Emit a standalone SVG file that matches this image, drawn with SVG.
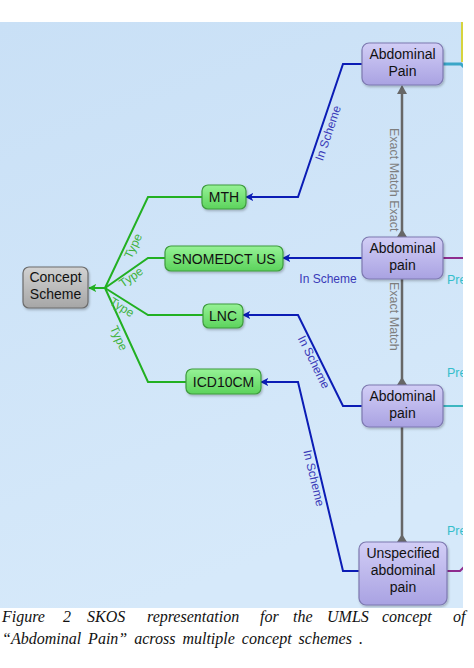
<svg xmlns="http://www.w3.org/2000/svg" width="474" height="668" viewBox="0 0 474 668">
  <defs>
    <linearGradient id="bg" x1="0" y1="0" x2="0.3" y2="1">
      <stop offset="0" stop-color="#C9E0F6"/>
      <stop offset="1" stop-color="#D6E9FA"/>
    </linearGradient>
    <linearGradient id="gPurple" x1="0" y1="0" x2="0" y2="1">
      <stop offset="0" stop-color="#D2CEF6"/>
      <stop offset="1" stop-color="#A9A2E2"/>
    </linearGradient>
    <linearGradient id="gGreen" x1="0" y1="0" x2="0" y2="1">
      <stop offset="0" stop-color="#96F296"/>
      <stop offset="1" stop-color="#5CD35C"/>
    </linearGradient>
    <linearGradient id="gGray" x1="0" y1="0" x2="0" y2="1">
      <stop offset="0" stop-color="#D2D2D2"/>
      <stop offset="1" stop-color="#A6A6A6"/>
    </linearGradient>
    <filter id="sh" x="-20%" y="-20%" width="140%" height="150%">
      <feDropShadow dx="1" dy="1.5" stdDeviation="1" flood-color="#000" flood-opacity="0.25"/>
    </filter>
    <clipPath id="area">
      <rect x="0" y="22" width="463" height="586"/>
    </clipPath>
    <marker id="aBlue" viewBox="0 0 10 10" refX="9" refY="5" markerWidth="8" markerHeight="8" orient="auto" markerUnits="userSpaceOnUse">
      <path d="M0,0 L10,5 L0,10 L2.5,5 z" fill="#0B1CB5"/>
    </marker>
    <marker id="aGreen" viewBox="0 0 10 10" refX="9" refY="5" markerWidth="8" markerHeight="8" orient="auto" markerUnits="userSpaceOnUse">
      <path d="M0,0 L10,5 L0,10 L2.5,5 z" fill="#22B022"/>
    </marker>
    <style>
      .node text { font-family: "Liberation Sans", Arial, sans-serif; font-size: 14px; fill: #111; text-anchor: middle; }
      .purple { fill: url(#gPurple); stroke: #7D79B0; stroke-width: 1.2; }
      .green { fill: url(#gGreen); stroke: #3E9B3E; stroke-width: 1.2; }
      .gray { fill: url(#gGray); stroke: #6C6C6C; stroke-width: 1.2; }
      .blue { fill: none; stroke: #0B1CB5; stroke-width: 2; }
      .grn { fill: none; stroke: #22B022; stroke-width: 2; }
      .gry { fill: none; stroke: #676767; stroke-width: 2.5; }
      .lbl { font-family: "Liberation Sans", Arial, sans-serif; font-size: 12px; }
      .lblBlue { fill: #3A3AB8; }
      .lblGreen { fill: #3DB23D; }
      .lblGray { fill: #7E7E7E; font-size: 12.5px; }
      .lblCyan { fill: #35BECB; font-size: 12.5px; }
      .cap { font-family: "Liberation Serif", "Times New Roman", serif; font-style: italic; font-size: 16px; fill: #111; }
    </style>
  </defs>

  <rect x="0" y="0" width="474" height="668" fill="#FFFFFF"/>

  <g clip-path="url(#area)">
    <rect x="0" y="22" width="463" height="586" fill="url(#bg)"/>

    <g id="connectors">
      <path d="M443,64 L461,64 L464,67" fill="none" stroke="#3AA6C8" stroke-width="3"/>
      <path d="M462,22 L462,62" fill="none" stroke="#D6D43E" stroke-width="2"/>
      <path d="M443,258 L464,258" fill="none" stroke="#8E2C8E" stroke-width="2"/>
      <path d="M443,406 L464,406" fill="none" stroke="#3CB6C0" stroke-width="2"/>
      <path d="M447,571 L460,571 L464,567" fill="none" stroke="#8E2C8E" stroke-width="2"/>
      <text class="lbl lblCyan" x="447" y="284">Pre</text>
      <text class="lbl lblCyan" x="447" y="377">Pre</text>
      <text class="lbl lblCyan" x="447" y="535">Pre</text>

      <path class="gry" d="M402,237 L402,92"/>
      <path class="gry" d="M402,279 L402,385"/>
      <path class="gry" d="M402,427 L402,542"/>
      <path d="M402,85 L397,94 L407,94 z" fill="#676767"/>
      <path d="M402,229 L397,237 L407,237 z" fill="#676767"/>
      <path d="M402,377 L397,385 L407,385 z" fill="#676767"/>
      <path d="M402,534 L397,542 L407,542 z" fill="#676767"/>
      <text class="lbl lblGray" transform="translate(390,128) rotate(90)">Exact Match Exact</text>
      <text class="lbl lblGray" transform="translate(390,282) rotate(90)">Exact Match</text>

      <path class="blue" d="M362,64 L343,64 L298,197 L246,197" marker-end="url(#aBlue)"/>
      <path class="blue" d="M362,258 L283,258" marker-end="url(#aBlue)"/>
      <path class="blue" d="M362,406 L343,406 L298,315 L243,315" marker-end="url(#aBlue)"/>
      <path class="blue" d="M359,571 L343,571 L298,382 L261,382" marker-end="url(#aBlue)"/>
      <text class="lbl lblBlue" text-anchor="middle" transform="translate(328,133) rotate(-71.3)" dy="0.35em">In Scheme</text>
      <text class="lbl lblBlue" text-anchor="middle" x="328" y="283">In Scheme</text>
      <text class="lbl lblBlue" text-anchor="middle" transform="translate(314,362) rotate(63.7)" dy="0.35em">In Scheme</text>
      <text class="lbl lblBlue" text-anchor="middle" transform="translate(314,478) rotate(76.6)" dy="0.35em">In Scheme</text>

      <path class="grn" d="M202,197 L148,197 L105,288"/>
      <path class="grn" d="M165,258 L148,258 L105,288"/>
      <path class="grn" d="M203,315 L148,315 L105,288"/>
      <path class="grn" d="M186,382 L148,382 L105,288"/>
      <path class="grn" d="M105,288 L89,288" marker-end="url(#aGreen)"/>
      <text class="lbl lblGreen" text-anchor="middle" transform="translate(133,246) rotate(-64.7)" dy="0.35em">Type</text>
      <text class="lbl lblGreen" text-anchor="middle" transform="translate(131,277) rotate(-34.9)" dy="0.35em">Type</text>
      <text class="lbl lblGreen" text-anchor="middle" transform="translate(122,307) rotate(32)" dy="0.35em">Type</text>
      <text class="lbl lblGreen" text-anchor="middle" transform="translate(119,338) rotate(65.4)" dy="0.35em">Type</text>
    </g>

    <g id="node-abdominal-pain-top" class="node">
      <rect class="purple" filter="url(#sh)" x="362" y="43" width="81" height="42" rx="7"/>
      <text x="402.5" y="59">Abdominal</text>
      <text x="402.5" y="76">Pain</text>
    </g>
    <g id="node-abdominal-pain-mid" class="node">
      <rect class="purple" filter="url(#sh)" x="362" y="237" width="81" height="42" rx="7"/>
      <text x="402.5" y="253">Abdominal</text>
      <text x="402.5" y="270">pain</text>
    </g>
    <g id="node-abdominal-pain-low" class="node">
      <rect class="purple" filter="url(#sh)" x="362" y="385" width="81" height="42" rx="7"/>
      <text x="402.5" y="401">Abdominal</text>
      <text x="402.5" y="418">pain</text>
    </g>
    <g id="node-unspecified" class="node">
      <rect class="purple" filter="url(#sh)" x="359" y="542" width="88" height="63" rx="7"/>
      <text x="403" y="558">Unspecified</text>
      <text x="403" y="575">abdominal</text>
      <text x="403" y="592">pain</text>
    </g>
    <g id="node-concept-scheme" class="node">
      <rect class="gray" filter="url(#sh)" x="23" y="267" width="65" height="41" rx="6"/>
      <text x="55.5" y="282">Concept</text>
      <text x="55.5" y="299">Scheme</text>
    </g>
    <g id="node-mth" class="node">
      <rect class="green" filter="url(#sh)" x="202" y="185" width="44" height="24" rx="6"/>
      <text x="224" y="202">MTH</text>
    </g>
    <g id="node-snomedct" class="node">
      <rect class="green" filter="url(#sh)" x="165" y="246" width="118" height="25" rx="6"/>
      <text x="224" y="263.5">SNOMEDCT US</text>
    </g>
    <g id="node-lnc" class="node">
      <rect class="green" filter="url(#sh)" x="203" y="304" width="40" height="24" rx="6"/>
      <text x="223" y="321">LNC</text>
    </g>
    <g id="node-icd10cm" class="node">
      <rect class="green" filter="url(#sh)" x="186" y="369" width="75" height="25" rx="6"/>
      <text x="223.5" y="386.5">ICD10CM</text>
    </g>
  </g>

  <g id="caption">
    <text class="cap" y="622">
      <tspan x="2">Figure</tspan>
      <tspan x="63">2</tspan>
      <tspan x="87">SKOS</tspan>
      <tspan x="147">representation</tspan>
      <tspan x="260">for</tspan>
      <tspan x="293">the</tspan>
      <tspan x="327">UMLS</tspan>
      <tspan x="382">concept</tspan>
      <tspan x="453">of</tspan>
    </text>
    <text class="cap" x="2" y="644" font-size="16.5" word-spacing="3">“Abdominal Pain” across multiple concept schemes .</text>
  </g>
</svg>
